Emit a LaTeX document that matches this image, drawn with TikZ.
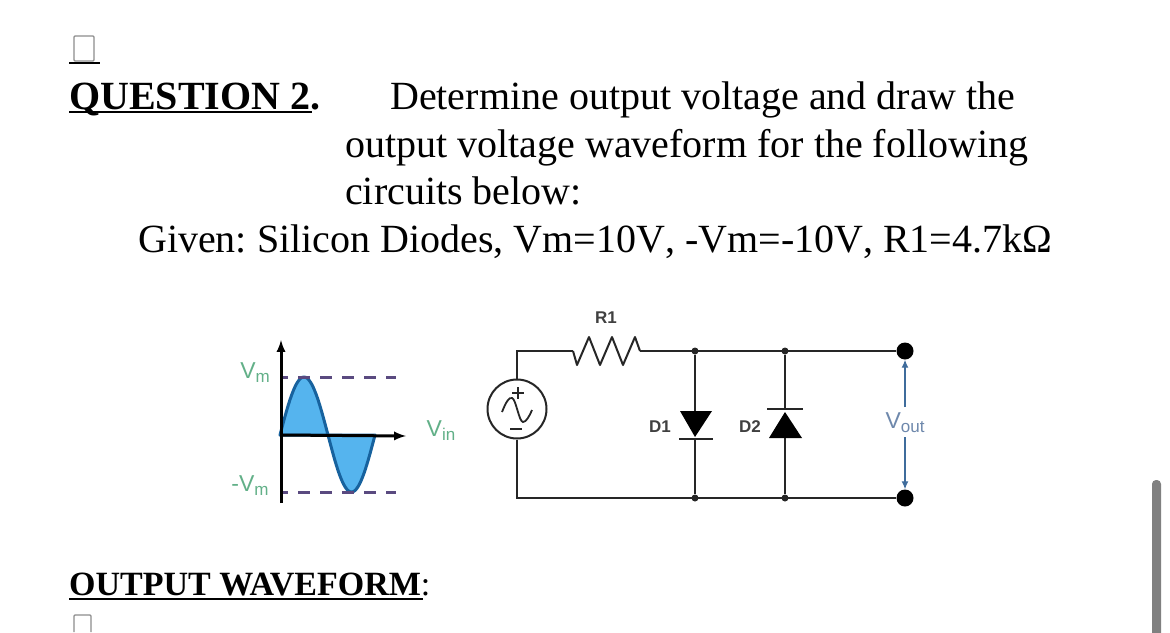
\documentclass[tikz,border=0pt]{standalone}
\usepackage{fontspec}
\setmainfont{Liberation Serif}
\newfontfamily\labelfont{Liberation Sans}
\newfontfamily\plainfont[Kerning=Off]{Liberation Serif}
\frenchspacing
\usetikzlibrary{arrows.meta, positioning}
\definecolor{wavefill}{HTML}{55B4EE}
\definecolor{waveline}{HTML}{17629E}
\definecolor{dashcol}{HTML}{5A4A80}
\definecolor{vingreen}{HTML}{62B088}
\definecolor{voutblue}{HTML}{6E88AC}
\definecolor{arrowblue}{HTML}{3F6C9C}
\newcommand{\subtext}[1]{\raisebox{-4pt}{\fontsize{17}{18}\selectfont #1}}
\tikzstyle{heading} = [font=\fontsize{40}{46}\selectfont, inner sep=0, anchor=base west]
\tikzstyle{wire} = [draw=black!85, line width=2pt]
\tikzstyle{dot} = [circle, fill=black!85, inner sep=0, minimum size=7pt]
\tikzstyle{terminal} = [circle, fill=black, inner sep=0, minimum size=17pt]
\tikzstyle{partlabel} = [font=\labelfont\bfseries\fontsize{17}{19}\selectfont, text=black!75, inner sep=0]
\tikzstyle{voltage} = [font=\labelfont\fontsize{23}{26}\selectfont, inner sep=0]
\tikzstyle{check} = [draw=black!45, line width=1.2pt, rounded corners=1pt]
\tikzstyle{wave} = [fill=wavefill, draw=waveline, line width=3pt, line join=round]
\tikzstyle{limit} = [draw=dashcol, line width=3pt, dash pattern=on 12pt off 10pt, dash phase=7pt]
\tikzstyle{measure} = [draw=arrowblue, line width=1.3pt, -{Latex[length=8pt,width=7pt]}]

\begin{document}
\begin{tikzpicture}[x=1pt,y=-1pt,>=latex]
  \useasboundingbox[fill=white] (0,0) rectangle (1170,632);
  % text
  \node[check, minimum width=20pt, minimum height=25pt, inner sep=0] (box1) at (84,48.5) {};
  \node[heading, font=\fontsize{40}{46}\selectfont\bfseries] (title) at (69,109) {QUESTION 2.};
  \node[heading] (line1) at (390,109) {Determine output voltage and draw the};
  \node[heading] (line2) at (345,157) {output voltage waveform for the following};
  \node[heading] (line3) at (345,204) {circuits below:};
  \node[heading, font=\fontsize{40}{46}\plainfont] (line4) at (138,252) {Given: Silicon Diodes, Vm=10V, -Vm=-10V, R1=4.7kΩ};
  \node[heading, font=\fontsize{34}{40}\selectfont] (outwave) at (69,595) {\textbf{OUTPUT WAVEFORM}:};
  \draw[line width=1.6pt] (69,63) -- (100,63);
  \draw[line width=1.6pt] (69,112) -- (312,112);
  \draw[line width=1.6pt] (69,599) -- (423,599);
  \draw[check] (74,632) -- (74,615) -- (91,615) -- (91,632);
  \fill[gray, rounded corners=4pt] (1152,640) -- (1152,480) -- (1161,480) -- (1161,640) -- cycle;

  % input wave
  \draw[wave] plot[domain=0:180, samples=40] ({280+\x*48/180},{435-58*sin(\x)}) -- cycle;
  \draw[wave] plot[domain=0:180, samples=40] ({328+\x*47/180},{435+57*sin(\x)}) -- cycle;
  \coordinate (top) at (281,340);
  \coordinate (bot) at (281,503);
  \coordinate (org) at (280,435);
  \coordinate (xend) at (406,436);
  \coordinate (hi1) at (283,377);
  \coordinate (hi2) at (396,377);
  \coordinate (lo1) at (283,492);
  \coordinate (lo2) at (396,492);
  \draw[limit] (hi1) -- (hi2);
  \draw[limit] (lo1) -- (lo2);
  \draw[->, line width=3pt] (bot) -- (top);
  \draw[->, line width=3pt] (org) -- (xend);
  \node[voltage, text=vingreen] (vm) at (255,373) {V\subtext{m}};
  \node[voltage, text=vingreen] (vmn) at (250,486) {-V\subtext{m}};
  \node[voltage, text=vingreen] (vin) at (441,431) {V\subtext{in}};

  % circuit
  \node[circle, draw=black!85, line width=2pt, minimum size=59pt, inner sep=0] (src) at (517,409) {};
  \draw[line width=1.8pt, black!85] (502,412) .. controls (506,402) and (509,397) .. (512,398) .. controls (516,399) and (519,422) .. (523,422) .. controls (526,422) and (529,417) .. (532,410);
  \draw[line width=1.6pt, black!85] (512,393) -- (524,393) (518,387) -- (518,399);
  \draw[line width=1.6pt, black!85] (510,429) -- (522,429);
  \coordinate (tl) at (517,351);
  \coordinate (bl) at (517,498);
  \coordinate (r1a) at (573,351);
  \coordinate (r1b) at (640,351);
  \node[dot] (j1) at (695,351) {};
  \node[dot] (j2) at (785,351) {};
  \node[dot] (j3) at (695,498) {};
  \node[dot] (j4) at (785,498) {};
  \node[terminal] (o1) at (905,351) {};
  \node[terminal] (o2) at (905,498) {};
  \draw[wire] (src) -- (tl) -- (r1a);
  \draw[wire] (src) -- (bl) -- (o2);
  \draw[wire, line join=round] (r1a) -- (577,365) -- (589,337) -- (600,365) -- (612,337) -- (623,365) -- (635,337) -- (r1b);
  \draw[wire] (r1b) -- (o1);
  \node[partlabel] (r1) at (606,318) {R1};

  % diodes
  \coordinate (d1a) at (695,411);
  \coordinate (d1k) at (695,439);
  \coordinate (d2k) at (785,409);
  \coordinate (d2a) at (785,438);
  \draw[wire] (j1) -- (d1a);
  \draw[wire] (d1k) -- (j3);
  \draw[wire] (j2) -- (d2k);
  \draw[wire] (d2a) -- (j4);
  \fill[black] (680,411) -- (712,411) -- (695,437) -- cycle;
  \draw[wire] (679,439) -- (713,439);
  \fill[black] (769,438) -- (802,438) -- (785,412) -- cycle;
  \draw[wire] (767,409) -- (803,409);
  \node[partlabel] (d1) at (660,427) {D1};
  \node[partlabel] (d2) at (750,427) {D2};

  % output
  \node[voltage, text=voutblue] (vout) at (905,423) {V\subtext{out}};
  \coordinate (va) at (905,407);
  \coordinate (vb) at (905,437);
  \draw[measure] (va) -- (o1);
  \draw[measure] (vb) -- (o2);
\end{tikzpicture}
\end{document}
